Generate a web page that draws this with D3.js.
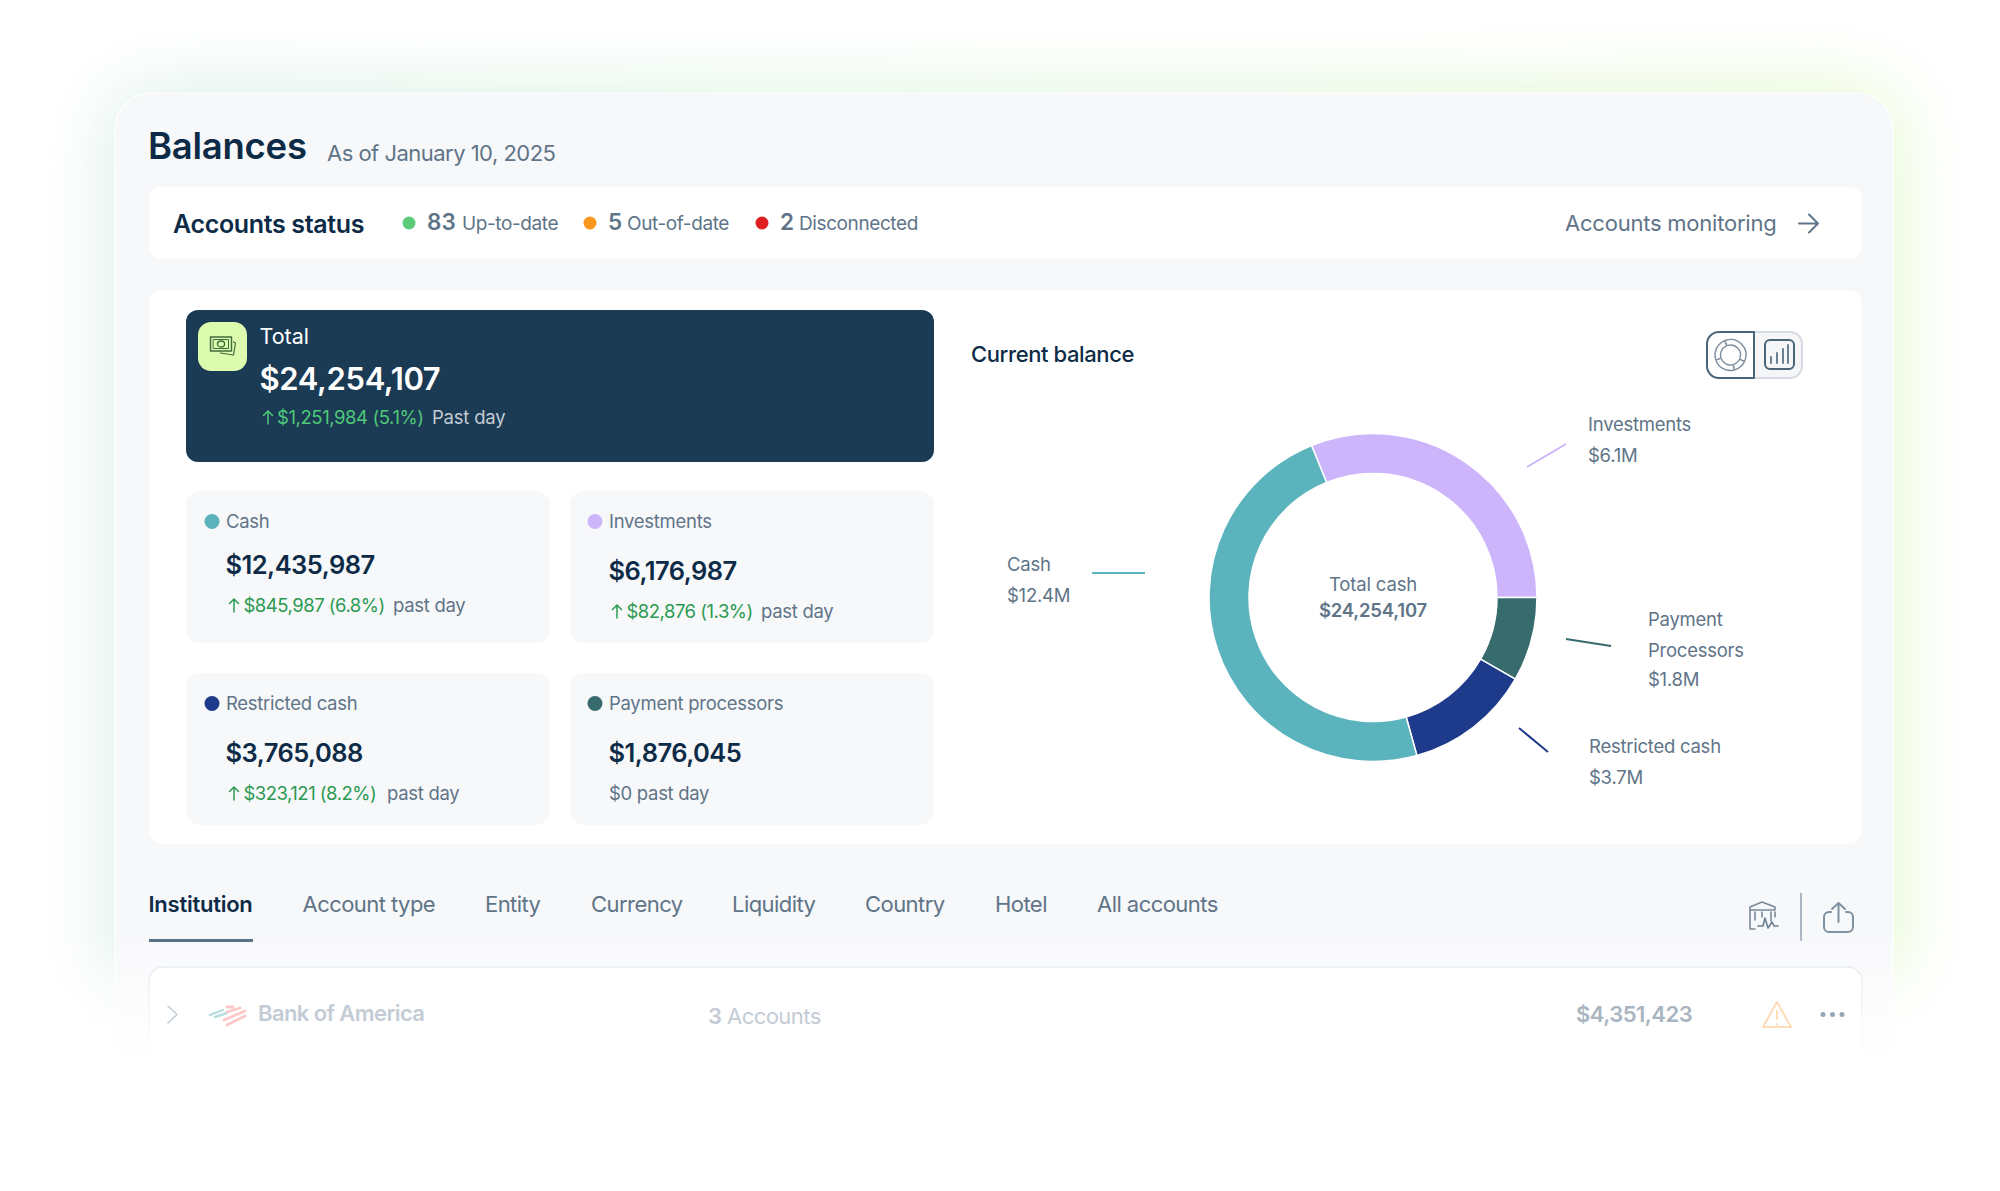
<!DOCTYPE html>
<html>
<head>
<meta charset="utf-8">
<script src="https://cdn.jsdelivr.net/npm/d3@7"></script>
<style>
  html, body { margin: 0; background: #fff; }
  svg { display: block; font-family: Inter, sans-serif; }
</style>
</head>
<body>
<div id="chart"></div>
<script>
// donnees
const categories = ["Cash", "Investments", "Restricted cash", "Payment processors"];
const balances = ["$12,435,987", "$6,176,987", "$3,765,088", "$1,876,045"];
const deltas = ["$845,987 (6.8%)", "$82,876 (1.3%)", "$323,121 (8.2%)", null];
const pastDay = ["past day", "past day", "past day", "$0 past day"];

// parts de l'anneau, en %, mesurees sur l'image (sens horaire depuis Investments)
const ringNames = ["Investments", "Payment processors", "Restricted cash", "Cash"];
const ringShares = [31.1, 8.3, 12.4, 48.2];
const ringLabels = [["Investments", "$6.1M"], ["Payment", "Processors", "$1.8M"], ["Restricted cash", "$3.7M"], ["Cash", "$12.4M"]];

const statusCounts = ["83", "5", "2"];
const statusNames = ["Up-to-date", "Out-of-date", "Disconnected"];
const tabNames = ["Institution", "Account type", "Entity", "Currency", "Liquidity", "Country", "Hotel", "All accounts"];

const width = 2000, height = 1191;
const dark = "#0d2b47", grey = "#607488", navy = "#1b3a54", line = "#4a6478", panel = "#f7f8fa";
const color = d3.scaleOrdinal()
  .domain(["Cash", "Investments", "Restricted cash", "Payment processors"])
  .range(["#5bb3bd", "#cdb5fc", "#1e3a8a", "#386b6e"]);

const svg = d3.select("#chart").append("svg").attr("width", width).attr("height", height);
const defs = svg.append("defs");

function addText(parent, x, y, str, size, weight, fill, anchor, spacing) {
  return parent.append("text")
    .attr("x", x).attr("y", y)
    .attr("font-size", size).attr("font-weight", weight)
    .attr("fill", fill).attr("text-anchor", anchor || "start")
    .attr("letter-spacing", spacing || 0)
    .text(str);
}

function addRect(parent, x, y, w, h, r, fill) {
  return parent.append("rect").attr("x", x).attr("y", y).attr("width", w).attr("height", h).attr("rx", r).attr("fill", fill);
}

function addPath(parent, d, stroke, sw) {
  return parent.append("path").attr("d", d).attr("fill", "none").attr("stroke", stroke)
    .attr("stroke-width", sw || 1.5).attr("stroke-linecap", "round").attr("stroke-linejoin", "round");
}

function arrowUp(parent, x, y, fill) {
  addPath(parent, `M${x} ${y}V${y - 13}M${x - 4.5} ${y - 8.5}L${x} ${y - 13}L${x + 4.5} ${y - 8.5}`, fill, 1.5);
}

// halo autour du panneau
const glowGrad = defs.append("linearGradient").attr("id", "glowGrad");
glowGrad.append("stop").attr("offset", "0").attr("stop-color", "#d9eee8");
glowGrad.append("stop").attr("offset", "0.55").attr("stop-color", "#dff5dc");
glowGrad.append("stop").attr("offset", "1").attr("stop-color", "#e3f9cc");
defs.append("filter").attr("id", "blur").attr("filterUnits", "userSpaceOnUse")
  .attr("x", 0).attr("y", 0).attr("width", width).attr("height", height)
  .append("feGaussianBlur").attr("stdDeviation", 36);
addRect(svg, 112, 90, 1784, 920, 40, "url(#glowGrad)").attr("filter", "url(#blur)");

// panneau principal
addRect(svg, 115, 93, 1778, 1000, 36, panel).attr("stroke", "#fff").attr("stroke-width", 1.2);

addText(svg, 148, 159, "Balances", 36.5, 600, dark, "start", -0.25);
addText(svg, 327, 161, "As of January 10, 2025", 22, 400, grey, "start", -0.52);

// bandeau statut
addRect(svg, 149, 187, 1713, 72, 12, "#fff");
addText(svg, 173, 233, "Accounts status", 25, 600, dark, "start", -0.34);

const statusDotX = [409, 590, 762];
const statusDotColor = ["#5ccb7a", "#f9971e", "#e02020"];
const statusCountX = [427, 608, 780];
const statusNameX = [462, 627, 799];
statusCounts.forEach((d, i) => {
  svg.append("circle").attr("cx", statusDotX[i]).attr("cy", 223).attr("r", 6.5).attr("fill", statusDotColor[i]);
  addText(svg, statusCountX[i], 230, d, 22.5, 600, grey);
  addText(svg, statusNameX[i], 230, statusNames[i], 19, 400, grey, "start", -0.4);
});

addText(svg, 1565, 231, "Accounts monitoring", 22, 400, grey, "start", -0.22);
addPath(svg, "M1799 223.5H1818M1809 214.5L1818 223.5L1809 232.5", grey, 2);

// carte du graphique
addRect(svg, 149, 290, 1713, 554, 14, "#fff");

// carte total
addRect(svg, 186, 310, 748, 152, 12, navy);
addRect(svg, 198, 322, 49, 49, 13, "#ddfbae");
const money = svg.append("g").attr("transform", "translate(209.5,336)");
addPath(money, "M1 1H22V15H1Z", "#3f6b3a", 1.4);
addPath(money, "M4 3.5H19V12.5H4Z", "#3f6b3a", 1);
money.append("ellipse").attr("cx", 11.5).attr("cy", 8).attr("rx", 3.6).attr("ry", 3).attr("fill", "none").attr("stroke", "#3f6b3a").attr("stroke-width", 1.3);
addPath(money, "M24 6L26 7L24 19L11 17", "#3f6b3a", 1.2);

addText(svg, 259.5, 344, "Total", 21.5, 400, "#fff");
addText(svg, 259.5, 390, "$24,254,107", 31, 600, "#fff", "start", -0.36);
arrowUp(svg, 268, 424, "#4fc878");
addText(svg, 277, 424, "$1,251,984 (5.1%)", 18.5, 400, "#4fc878", "start", -0.42);
addText(svg, 432, 424, "Past day", 18.5, 400, "#c3ccd4", "start", -0.2);

// cartes par categorie
const cardX = d3.scaleBand().domain([0, 1]).range([186, 934]).paddingInner(0.052);
const cardY = d3.scaleBand().domain([0, 1]).range([491, 825]).paddingInner(0.165);
const valueBase = [574, 580, 762, 762];
const deltaBase = [612, 618, 800, 800];
const pastX = [393, 761, 387, 609];

categories.forEach((name, i) => {
  const col = i % 2, row = i < 2 ? 0 : 1;
  const x = cardX(col), y = cardY(row);
  const tx = x + (col ? 39 : 40);
  addRect(svg, x, y, cardX.bandwidth(), cardY.bandwidth(), 14, panel);
  svg.append("circle").attr("cx", tx - 14).attr("cy", y + 30.5).attr("r", 7.5).attr("fill", color(name));
  addText(svg, tx, y + 36.5, name, 18.5, 400, grey, "start", -0.28);
  addText(svg, tx - 0.5, valueBase[i], balances[i], 25.5, 600, dark, "start", -0.55);
  if (deltas[i]) {
    arrowUp(svg, tx + 8, deltaBase[i], "#2c9a52");
    addText(svg, tx + 17.5, deltaBase[i], deltas[i], 18.5, 400, "#2c9a52", "start", -0.5);
  }
  addText(svg, pastX[i], deltaBase[i], pastDay[i], 18.5, 400, grey, "start", -0.3);
});

// anneau
addText(svg, 971, 362, "Current balance", 22, 500, dark, "start", -0.4);

const cx = 1373, cy = 597.5;
const startAngle = -22 * Math.PI / 180;
const pie = d3.pie().sort(null).value((d) => d.share).startAngle(startAngle).endAngle(startAngle + 2 * Math.PI);
const arc = d3.arc().innerRadius(124).outerRadius(164);
const ring = svg.append("g").attr("transform", `translate(${cx},${cy})`);
ring.selectAll("path")
  .data(pie(ringNames.map((name, i) => ({ name, share: ringShares[i] }))))
  .join("path")
  .attr("d", arc)
  .attr("fill", (d) => color(d.data.name))
  .attr("stroke", "#fff")
  .attr("stroke-width", 1.5);

addText(svg, cx, 591, "Total cash", 18.5, 400, grey, "middle", -0.15);
addText(svg, cx, 617, "$24,254,107", 18.5, 600, grey, "middle", -0.2);

// etiquettes et traits de rappel
const labelX = [1588, 1648, 1589, 1007];
const labelBase = [[431, 462], [626, 657, 686], [753, 784], [571, 602]];
const leaders = [[1527, 467, 1566, 444], [1566, 639, 1611, 646], [1519, 728, 1548, 752], [1092, 573, 1145, 573]];
ringNames.forEach((name, i) => {
  ringLabels[i].forEach((str, j) => addText(svg, labelX[i], labelBase[i][j], str, 18.5, 400, grey, "start", -0.25));
  const [x1, y1, x2, y2] = leaders[i];
  svg.append("line").attr("x1", x1).attr("y1", y1).attr("x2", x2).attr("y2", y2)
    .attr("stroke", color(name)).attr("stroke-width", 2);
});

// boutons donut / barres
addRect(svg, 1731, 332, 71, 46, 12, "#f4f6f8").attr("stroke", "#d6dce2").attr("stroke-width", 2);
addPath(svg, "M1754 332H1719a12 12 0 0 0 -12 12V366a12 12 0 0 0 12 12H1754Z", line, 2).attr("fill", "#fff");
const miniRing = svg.append("g").attr("transform", "translate(1730.5,355)");
const miniArc = d3.arc().innerRadius(10).outerRadius(15.5).cornerRadius(1);
miniRing.selectAll("path")
  .data(pie(ringNames.map((name, i) => ({ name, share: [38, 14, 24, 24][i] }))))
  .join("path").attr("d", miniArc).attr("fill", "#fff").attr("stroke", "#7c8e9e").attr("stroke-width", 1.4);
addRect(svg, 1765, 340, 29, 29, 5, "none").attr("stroke", line).attr("stroke-width", 2);
[[1771, 6], [1777, 10], [1783, 14], [1788, 18]].forEach(([x, h]) => addPath(svg, `M${x} 363V${363 - h}`, "#6a7f91", 2));

// onglets
const tabX = [148.5, 302.5, 485, 591, 732, 865, 995, 1097];
tabNames.forEach((name, i) => {
  addText(svg, tabX[i], 912, name, 22, i === 0 ? 600 : 400, i === 0 ? dark : grey, "start", i === 0 ? -0.25 : -0.55);
});
addRect(svg, 149, 939, 104, 3, 0, line);

// icones a droite des onglets
addPath(svg, "M1750 907L1762 902L1775 907V910H1750Z", "#7a8b9b", 1.6);
addPath(svg, "M1750 910V929H1755M1755 912V920M1762 912V917M1771 912V921M1775 912V917", "#7a8b9b", 1.6);
addPath(svg, "M1758 926H1763L1765 918L1768 928L1772 922L1774 926H1778", "#6a7f91", 1.6);
addRect(svg, 1800, 893, 2, 48, 0, "#a9b5c0");
addPath(svg, "M1831 912H1829a5 5 0 0 0 -5 5V927a5 5 0 0 0 5 5H1848a5 5 0 0 0 5 -5V917a5 5 0 0 0 -5 -5H1846", "#7f90a0", 2);
addPath(svg, "M1838.5 922V903M1832 909L1838.5 903L1845 909", "#7f90a0", 2);

// ligne du tableau, fondue ensuite
addRect(svg, 149, 967, 1713, 120, 14, "#fff").attr("stroke", "#dfe3e8").attr("stroke-width", 1.5);

// fondu vers le blanc en bas
const fade = defs.append("linearGradient").attr("id", "fade").attr("x1", 0).attr("x2", 0).attr("y1", 0).attr("y2", 1);
fade.append("stop").attr("offset", "0").attr("stop-color", "#fff").attr("stop-opacity", 0);
fade.append("stop").attr("offset", "0.5").attr("stop-color", "#fff").attr("stop-opacity", 0.55);
fade.append("stop").attr("offset", "1").attr("stop-color", "#fff").attr("stop-opacity", 1);
addRect(svg, 0, 930, width, 130, 0, "url(#fade)");
addRect(svg, 0, 1060, width, 131, 0, "#fff");

addPath(svg, "M168 1006L177 1014.5L168 1023", "#c3ccd5", 1.5);
addPath(svg, "M210 1015L223 1010M215 1017L227 1013", "#b5dde0", 2.4);
addPath(svg, "M227 1007L233 1007M227 1012L240 1008M224 1020L245 1011M227 1025L245 1016", "#fdc7c7", 2.8);
addText(svg, 258, 1021, "Bank of America", 22, 600, "#c3ccd5", "start", -0.6);
addText(svg, 708, 1024, "3", 22, 600, "#c3ccd5");
addText(svg, 727, 1024, "Accounts", 22, 400, "#c3ccd5", "start", -0.55);
addText(svg, 1576, 1022, "$4,351,423", 22, 600, "#a9b5c0", "start", -0.5);
addPath(svg, "M1777 1002L1791 1027H1763Z", "#fddcb8", 2);
addPath(svg, "M1777 1011V1019M1777 1024V1024.5", "#fddcb8", 2);
[1823, 1832.5, 1842].forEach((x) => svg.append("circle").attr("cx", x).attr("cy", 1014.5).attr("r", 2.5).attr("fill", "#98a6b4"));
</script>
</body>
</html>
